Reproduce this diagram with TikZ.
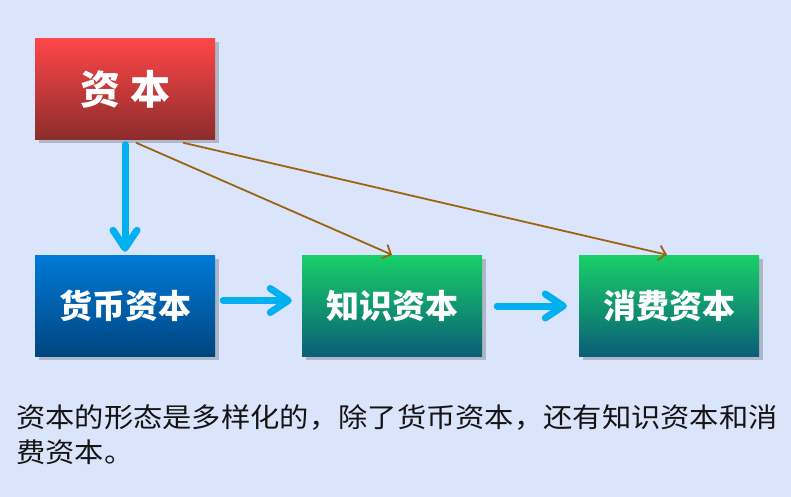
\documentclass[tikz,border=0pt]{standalone}
\usepackage{fontspec}
\newfontfamily\cjk{Noto Sans CJK SC}
\usetikzlibrary{arrows.meta,shadows,calc}
\definecolor{bg}{RGB}{218,228,250}
\definecolor{redtop}{RGB}{255,70,72}
\definecolor{redbot}{RGB}{140,44,44}
\definecolor{bluetop}{RGB}{0,122,215}
\definecolor{bluebot}{RGB}{0,70,128}
\definecolor{greentop}{RGB}{24,208,104}
\definecolor{greenbot}{RGB}{10,94,120}
\definecolor{flow}{RGB}{0,176,240}
\definecolor{link}{RGB}{156,100,16}
\definecolor{txt}{RGB}{20,20,20}
\tikzset{
  box/.style={minimum width=180pt, minimum height=101pt, inner sep=0pt,
    text=white, font=\cjk\bfseries\fontsize{33}{36}\selectfont,
    drop shadow={shadow xshift=4pt, shadow yshift=-4pt, opacity=0.3, fill=black!70}},
  redbox/.style={box, top color=redtop, bottom color=redbot},
  bluebox/.style={box, top color=bluetop, bottom color=bluebot},
  greenbox/.style={box, top color=greentop, bottom color=greenbot},
  flowarrow/.style={draw=flow, line width=7pt, line cap=round,
    -{Straight Barb[length=18pt,width=24pt,line cap=round,line join=round]}},
  linkarrow/.style={draw=link, line width=1.8pt,
    -{Straight Barb[length=7pt,width=15pt]}}
}
\begin{document}
\begin{tikzpicture}[x=1pt,y=-1pt]
\fill[bg] (0,0) rectangle (791,497);
\useasboundingbox (0,0) rectangle (791,497);
\node[redbox, font=\cjk\bfseries\fontsize{40}{44}\selectfont] (cap) at (125,89) {资\hspace{10pt}本};
\node[bluebox] (money) at (125,305.5) {货币资本};
\node[greenbox] (know) at (392,305.5) {知识资本};
\node[greenbox] (cons) at (669,305.5) {消费资本};
\draw[flowarrow, shorten <=5pt, shorten >=3pt] (cap.south) -- (money.north);
\draw[flowarrow, shorten <=8pt, shorten >=10pt] ([yshift=5pt]money.east) -- ([yshift=5pt]know.west);
\draw[flowarrow, shorten <=15pt, shorten >=12pt] ([yshift=-0.5pt]know.east) -- ([yshift=-0.5pt]cons.west);
\draw[linkarrow] ([xshift=11pt,yshift=-3pt]cap.south) -- (know.north);
\draw[linkarrow] ([xshift=58pt,yshift=-3pt]cap.south) -- ([xshift=-2pt]cons.north);
\node[anchor=north west, inner sep=0pt, align=left, text=txt,
  font=\cjk\fontsize{27}{35}\selectfont] (note) at (16,404)
  {\scalebox{1.085}[1]{资本的形态是多样化的，除了货币资本，还有知识资本和消}\\\scalebox{1.085}[1]{费资本。}};
\end{tikzpicture}
\end{document}
